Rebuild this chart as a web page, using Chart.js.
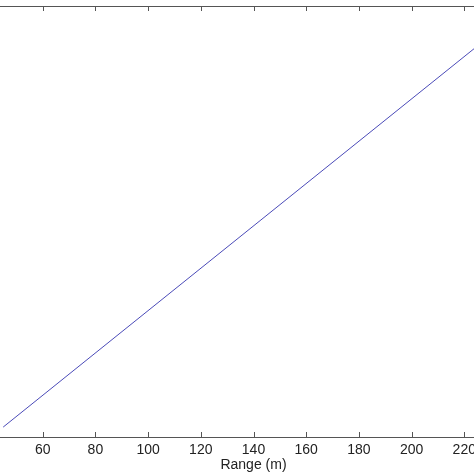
<!DOCTYPE html>
<html>
<head>
<meta charset="utf-8">
<script src="https://cdn.jsdelivr.net/npm/chart.js@4/dist/chart.umd.min.js"></script>
<style>
  html, body { margin: 0; padding: 0; background: #fff; overflow: hidden; }
  body { width: 474px; height: 474px; position: relative; }
  #chart { position: absolute; left: -10px; top: 0; }
</style>
</head>
<body>
<canvas id="chart" width="527" height="474"></canvas>
<script>
const rangeValues = [45, 240];
const seriesValues = [2.3, 98.1];
const xTicks = [40, 60, 80, 100, 120, 140, 160, 180, 200, 220, 240];

const axisColor = "#555";

// matlab style ticks pointing into the plot box
const innerTicks = {
  id: "innerTicks",
  afterDraw(chart) {
    const ctx = chart.ctx;
    const area = chart.chartArea;
    ctx.save();
    ctx.strokeStyle = axisColor;
    ctx.lineWidth = 1;
    ["x", "x2"].forEach((id) => {
      const scale = chart.scales[id];
      xTicks.forEach((v) => {
        const px = Math.round(scale.getPixelForValue(v)) + 0.5;
        ctx.beginPath();
        if (id === "x") {
          ctx.moveTo(px, area.bottom);
          ctx.lineTo(px, area.bottom - 5);
        } else {
          ctx.moveTo(px, area.top);
          ctx.lineTo(px, area.top + 5);
        }
        ctx.stroke();
      });
    });
    ctx.restore();
  },
};

new Chart(document.getElementById("chart"), {
  type: "line",
  data: {
    datasets: [
      {
        data: rangeValues.map((x, i) => ({ x: x, y: seriesValues[i] })),
        borderColor: "#4a4ab8",
        borderWidth: 1,
        pointRadius: 0,
        fill: false,
        tension: 0,
      },
    ],
  },
  options: {
    responsive: false,
    animation: false,
    devicePixelRatio: 1,
    layout: { padding: 0 },
    plugins: {
      legend: { display: false },
      tooltip: { enabled: false },
    },
    scales: {
      x: {
        type: "linear",
        position: "bottom",
        min: 40,
        max: 240,
        afterFit(scale) {
          scale.height = 37;
          scale.paddingLeft = 0;
          scale.paddingRight = 0;
        },
        grid: { display: false, drawTicks: false },
        border: { display: true, color: axisColor, width: 1 },
        ticks: {
          stepSize: 20,
          includeBounds: false,
          autoSkip: false,
          maxRotation: 0,
          padding: 5,
          color: "#222",
          font: { family: "Liberation Sans", size: 14 },
        },
        title: {
          display: true,
          text: "Range (m)",
          color: "#222",
          padding: 0,
          font: { family: "Liberation Sans", size: 14 },
        },
      },
      x2: {
        type: "linear",
        position: "top",
        min: 40,
        max: 240,
        afterFit(scale) {
          scale.height = 6;
          scale.paddingLeft = 0;
          scale.paddingRight = 0;
        },
        grid: { display: false, drawTicks: false },
        border: { display: true, color: axisColor, width: 1 },
        ticks: { display: false, stepSize: 20 },
      },
      y: {
        display: false,
        min: 0,
        max: 100,
      },
    },
  },
  plugins: [innerTicks],
});
</script>
</body>
</html>
